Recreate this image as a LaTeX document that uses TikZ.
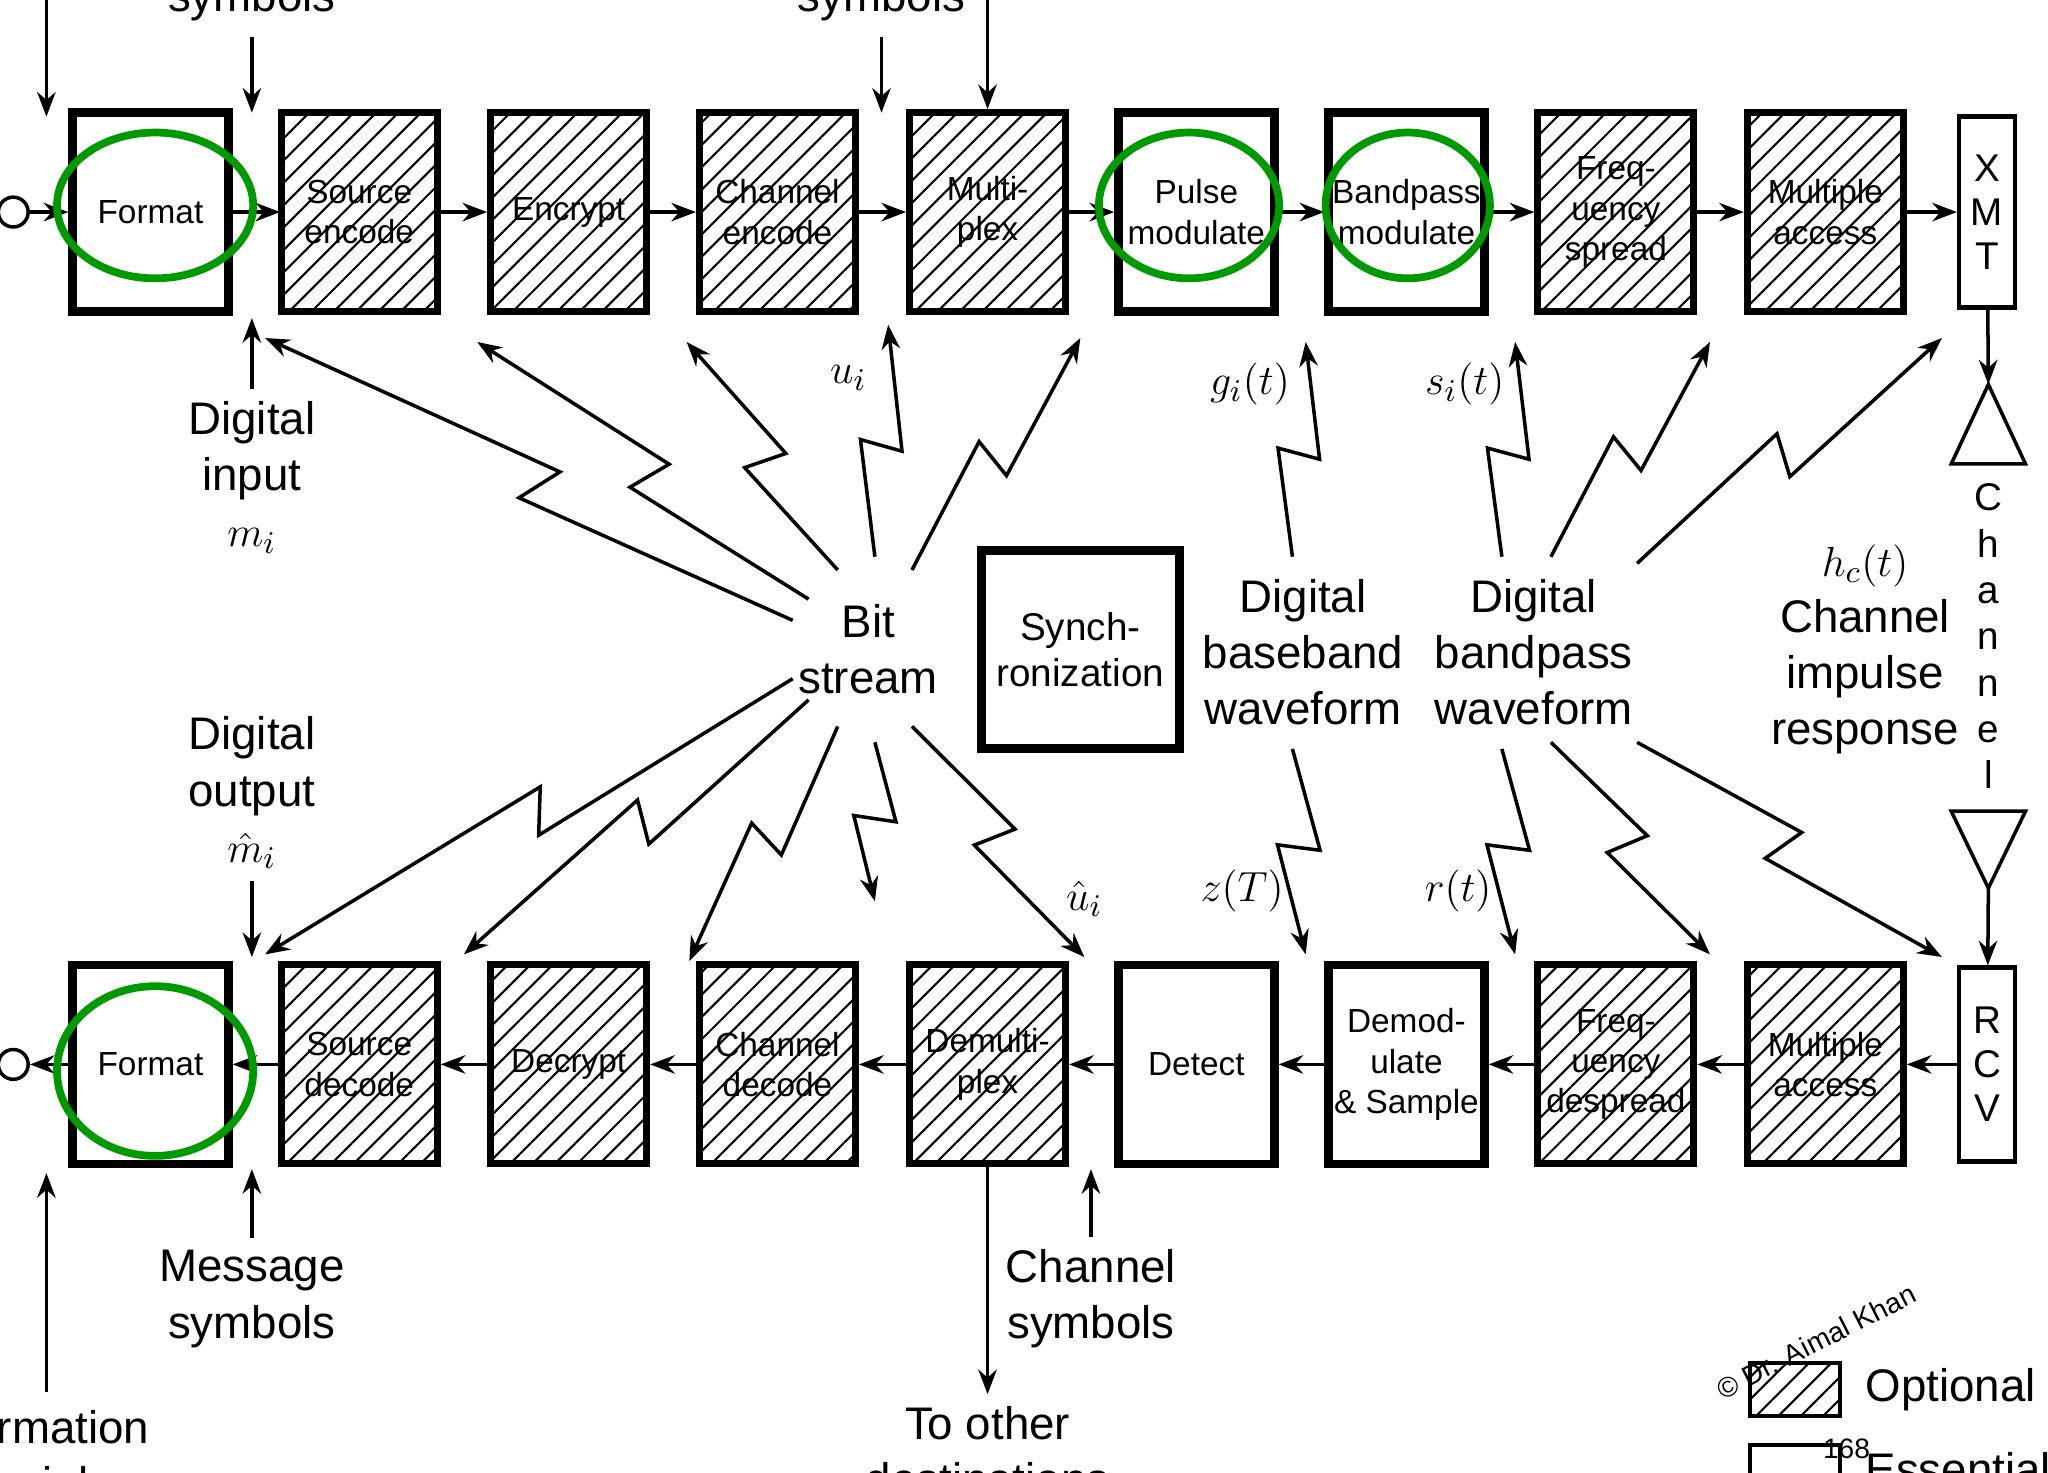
\documentclass[tikz,border=0pt]{standalone}
\usepackage{fontspec}
\setmainfont{Liberation Sans}
\usetikzlibrary{calc,patterns.meta,arrows.meta}
\tikzset{
 ess/.style={draw,line width=2.4pt,minimum width=1.56cm,minimum height=1.99cm,align=center,inner sep=0pt,font=\fontsize{9.5}{11.5}\selectfont},
 opt/.style={ess,line width=2pt,pattern={Lines[angle=45,distance=4.5pt,line width=0.6pt]}},
 arr/.style={-{Stealth[length=7pt]},line width=1pt},
 lbl/.style={align=center,font=\fontsize{13}{16}\selectfont},
 ring/.style={draw=green!60!black,line width=2.2pt},
}
\newcommand{\zz}[3][6]{\draw[arr] (#2) -- ($(#2)!0.5!(#3)!#1pt!90:(#3)$) -- ($(#2)!0.46!(#3)!#1pt!-90:(#3)$) -- (#3);}
\begin{document}
\begin{tikzpicture}[x=0.013256cm,y=-0.013256cm]
\useasboundingbox (0,0) rectangle (1545,1111);
% top row
\node[ess] (f1) at (113.5,160) {Format};
\node[opt] (se) at (271,160) {Source\\encode};
\node[opt] (en) at (429,160) {Encrypt};
\node[opt] (ce) at (586.5,160) {Channel\\encode};
\node[opt] (mx) at (745,160) {Multi-\\plex};
\node[ess] (pm) at (902.5,160) {Pulse\\modulate};
\node[ess] (bm) at (1061,160) {Bandpass\\modulate};
\node[opt] (fs) at (1219,160) {Freq-\\uency\\spread};
\node[opt] (ma) at (1377,160) {Multiple\\access};
\node[draw,line width=1.2pt,minimum width=0.56cm,minimum height=1.91cm,align=center,inner sep=0pt,font=\fontsize{11}{12.5}\selectfont] (xmt) at (1499,160) {X\\M\\T};
% bottom row
\node[ess] (f2) at (113.5,803) {Format};
\node[opt] (sd) at (271,803) {Source\\decode};
\node[opt] (de) at (429,803) {Decrypt};
\node[opt] (cd) at (586.5,803) {Channel\\decode};
\node[opt] (dm) at (745,803) {Demulti-\\plex};
\node[ess] (dt) at (902.5,803) {Detect};
\node[ess] (ds) at (1061,803) {Demod-\\ulate\\\& Sample};
\node[opt] (fd) at (1219,803) {Freq-\\uency\\despread};
\node[opt] (mb) at (1377,803) {Multiple\\access};
\node[draw,line width=1.2pt,minimum width=0.56cm,minimum height=1.94cm,align=center,inner sep=0pt,font=\fontsize{11}{12.5}\selectfont] (rcv) at (1499,803) {R\\C\\V};
% chain arrows
\foreach \a/\b in {f1/se,se/en,en/ce,ce/mx,mx/pm,pm/bm,bm/fs,fs/ma,ma/xmt} \draw[arr] (\a) -- (\b);
\foreach \a/\b in {rcv/mb,mb/fd,fd/ds,ds/dt,dt/dm,dm/cd,cd/de,de/sd,sd/f2} \draw[arr] (\a) -- (\b);
\node[circle,draw,line width=1pt,inner sep=3pt] (o1) at (10,160) {};
\node[circle,draw,line width=1pt,inner sep=3pt] (o2) at (10,803) {};
\draw[arr] (o1) -- (f1);
\draw[arr] (f2) -- (o2);
% rings
\draw[ring] (117,155) ellipse (74 and 55);
\draw[ring] (897,155) ellipse (68 and 55);
\draw[ring] (1062,155) ellipse (62 and 55);
\draw[ring] (117,808) ellipse (74 and 64);
% antennas
\draw[line width=1pt] (1500,290) -- (1472,350) -- (1528,350) -- cycle;
\draw[line width=1pt] (1500,670) -- (1472,612) -- (1528,612) -- cycle;
\coordinate (t1) at (1500,290); \coordinate (t2) at (1500,670);
\draw[arr] (xmt) -- (t1);
\draw[arr] (t2) -- (rcv);
\node[align=center,font=\fontsize{11}{13.2}\selectfont] (chan) at (1500,480) {C\\h\\a\\n\\n\\e\\l};
% center labels
\node[lbl] (bit) at (655,490) {Bit\\stream};
\node[draw,line width=2.4pt,minimum width=1.98cm,minimum height=1.98cm,align=center,font=\fontsize{11}{13}\selectfont] (sync) at (815,490) {Synch-\\ronization};
\node[lbl] (bb) at (983,492) {Digital\\baseband\\waveform};
\node[lbl] (bp) at (1157,492) {Digital\\bandpass\\waveform};
\node[lbl] (hc) at (1407,490) {$h_c(t)$\\Channel\\impulse\\response};
\node[lbl] (din) at (190,360) {Digital\\input\\$m_i$};
\node[lbl] (dout) at (190,598) {Digital\\output\\$\hat m_i$};
\node[lbl] (ms) at (190,980) {Message\\symbols};
\node[lbl] (cs) at (823,980) {Channel\\symbols};
\node[lbl] (tod) at (745,1095) {To other\\destinations};
\node[lbl,anchor=east] (sink) at (122,1098) {ormation\\sink};
\node[lbl] (sy1) at (190,0) {symbols};
\node[lbl] (sy2) at (665,0) {symbols};
% bit-stream lightning arrows
\coordinate (b1) at (598,468); \coordinate (b2) at (610,452); \coordinate (b3) at (632,430);
\coordinate (b4) at (660,420); \coordinate (b5) at (688,430);
\coordinate (e1) at (200,255); \coordinate (e2) at (360,258); \coordinate (e3) at (518,258);
\coordinate (e4) at (670,245); \coordinate (e5) at (815,255);
\zz{b1}{e1} \zz{b2}{e2} \zz{b3}{e3} \zz{b4}{e4} \zz{b5}{e5}
\coordinate (c1) at (598,512); \coordinate (c2) at (610,528); \coordinate (c3) at (632,548);
\coordinate (c4) at (660,560); \coordinate (c5) at (688,548);
\coordinate (g1) at (200,720); \coordinate (g2) at (350,720); \coordinate (g3) at (520,725);
\coordinate (g4) at (660,680); \coordinate (g5) at (818,722);
\zz{c1}{g1} \zz{c2}{g2} \zz{c3}{g3} \zz{c4}{g4} \zz{c5}{g5}
% waveform arrows
\coordinate (w1) at (975,420); \coordinate (w1e) at (985,258);
\coordinate (w2) at (975,565); \coordinate (w2e) at (985,720);
\coordinate (w3) at (1133,420); \coordinate (w3e) at (1143,258);
\coordinate (w4) at (1133,565); \coordinate (w4e) at (1143,720);
\zz{w1}{w1e} \zz{w2}{w2e} \zz{w3}{w3e} \zz{w4}{w4e}
\coordinate (r1) at (1170,420); \coordinate (r1e) at (1290,258);
\coordinate (r2) at (1235,425); \coordinate (r2e) at (1465,255);
\coordinate (r3) at (1170,560); \coordinate (r3e) at (1290,720);
\coordinate (r4) at (1235,560); \coordinate (r4e) at (1465,722);
\zz{r1}{r1e} \zz{r2}{r2e} \zz{r3}{r3e} \zz{r4}{r4e}
\node[lbl] (ui) at (640,285) {$u_i$};
\node[lbl] (uh) at (818,678) {$\hat u_i$};
\node[lbl] (gi) at (943,290) {$g_i(t)$};
\node[lbl] (si) at (1105,290) {$s_i(t)$};
\node[lbl] (zT) at (937,672) {$z(T)$};
\node[lbl] (rt) at (1100,672) {$r(t)$};
% vertical arrows
\coordinate (v1) at (35,0); \coordinate (v1e) at (35,88);
\coordinate (v2) at (190,28); \coordinate (v2e) at (190,85);
\coordinate (v3) at (665,28); \coordinate (v3e) at (665,85);
\coordinate (v4) at (745,0);
\draw[arr] (v1) -- (v1e); \draw[arr] (v2) -- (v2e); \draw[arr] (v3) -- (v3e);
\draw[arr] (v4) -- (mx.north);
\draw[arr] (din) -- (190,240);
\draw[arr] (dout) -- (190,722);
\draw[arr] (ms) -- (190,882);
\draw[arr] (cs) -- (823,882);
\draw[arr] (dm) -- (tod);
\coordinate (sk) at (35,1050); \draw[arr] (sk) -- (35,885);
% legend
\node[opt,minimum width=0.9cm,minimum height=0.53cm,line width=1.2pt] (lo) at (1354,1048) {};
\node[draw,line width=1.2pt,minimum width=0.9cm,minimum height=0.5cm] (le) at (1354,1109) {};
\node[lbl,anchor=west] at (1398,1048) {Optional};
\node[lbl,anchor=west] at (1398,1108) {Essential};
\node[rotate=27,font=\fontsize{8}{9}\selectfont] at (1370,1012) {© Dr. Aimal Khan};
\node[font=\fontsize{8}{9}\selectfont] at (1393,1093) {168};
\end{tikzpicture}
\end{document}
